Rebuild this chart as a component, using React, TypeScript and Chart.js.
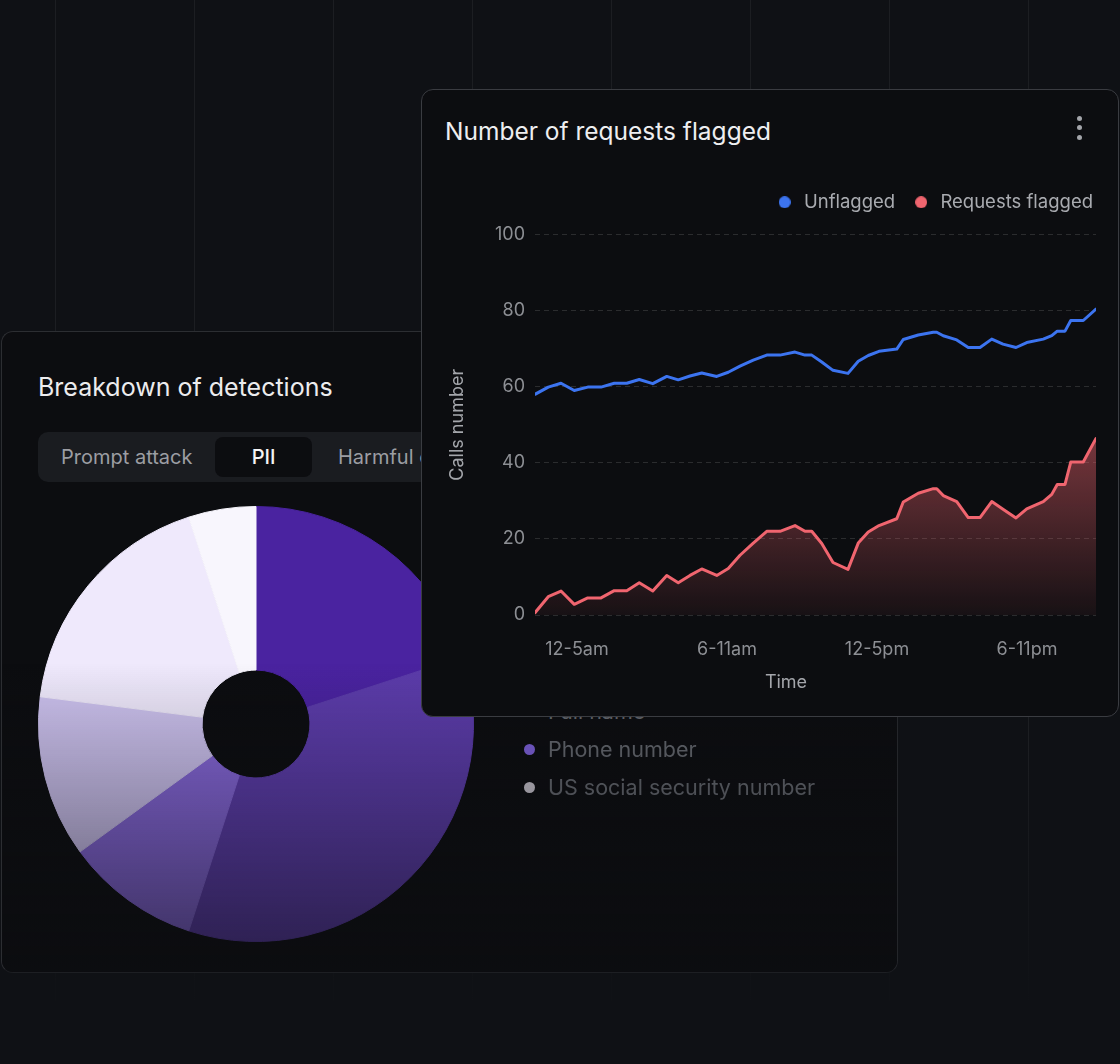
import React, { useEffect, useRef } from "react";
import { Chart, registerables } from "chart.js";

Chart.register(...registerables);

// ---------- Line chart data: "Number of requests flagged" ----------
const timeHours = [
  1.32, 1.85, 2.36, 2.89, 3.43, 3.96, 4.49, 4.99, 5.49, 6.03,
  6.59, 7.05, 7.52, 7.99, 8.59, 9.05, 9.52, 10.05, 10.59, 11.12,
  11.72, 12.12, 12.39, 12.79, 13.24, 13.84, 14.25, 14.65, 15.08, 15.79,
  16.05, 16.65, 17.25, 17.39, 17.65, 18.19, 18.65, 19.12, 19.59, 20.04,
  20.56, 20.99, 21.65, 21.99, 22.21, 22.52, 22.75, 23.25, 23.76,
];
const unflagged = [
  58.0, 59.9, 60.9, 59.0, 59.9, 59.9, 60.9, 60.9, 61.9, 60.8,
  62.7, 61.8, 62.8, 63.6, 62.7, 63.8, 65.4, 67.0, 68.3, 68.3,
  69.1, 68.3, 68.3, 66.5, 64.3, 63.5, 66.7, 68.2, 69.3, 69.9,
  72.4, 73.6, 74.3, 74.3, 73.4, 72.3, 70.3, 70.3, 72.5, 71.2,
  70.3, 71.6, 72.5, 73.4, 74.6, 74.6, 77.4, 77.4, 80.4,
];
const requestsFlagged = [
  0.6, 4.8, 6.3, 2.8, 4.5, 4.5, 6.4, 6.4, 8.5, 6.3,
  10.4, 8.5, 10.4, 12.1, 10.4, 12.2, 15.7, 18.9, 22.0, 22.0,
  23.5, 22.0, 22.0, 18.8, 13.8, 12.0, 18.9, 21.8, 23.5, 25.3,
  29.7, 32.0, 33.2, 33.2, 31.4, 29.8, 25.6, 25.6, 29.8, 27.8,
  25.5, 27.9, 29.8, 31.7, 34.3, 34.3, 40.2, 40.2, 46.4,
];
const seriesNames = ["Unflagged", "Requests flagged"];
const timeTickHours = [3, 9, 15, 21];
const timeTickLabels = ["12-5am", "6-11am", "12-5pm", "6-11pm"];
const callsMin = 0;
const callsMax = 100;
const callsStep = 20;

// ---------- Doughnut data: "Breakdown of detections" ----------
const detectionLabels = [
  "Email address",
  "Credit card number",
  "Phone number",
  "US social security number",
  "Full name",
  "IP address",
];
const detectionValues = [20, 35, 10, 12, 18, 5];
const detectionColors = ["#4a23a0", "#5c3cab", "#8566d8", "#cdc2ef", "#efe9fc", "#f8f6fd"];

const legendNames = ["Full name", "Phone number", "US social security number"];
const legendDotColors = ["#e6e0f8", "#7d60da", "#c7c3cd"];

const tabNames = ["Prompt attack", "PII", "Harmful content"];

// ---------- styles ----------
const FONT = "Inter, 'Noto Sans', sans-serif";
const PAGE_BG = "#0f1115";
const CARD_BG = "#0c0d10";
const BLUE = "#3c74f0";
const RED = "#f0656f";

function makeDot(color: string) {
  const c = document.createElement("canvas");
  c.width = 12;
  c.height = 12;
  const g = c.getContext("2d")!;
  g.fillStyle = color;
  g.beginPath();
  g.arc(6, 6, 6, 0, Math.PI * 2);
  g.fill();
  return c;
}

function FlaggedChart() {
  const ref = useRef<HTMLCanvasElement>(null);
  useEffect(() => {
    Chart.defaults.font.family = FONT;
    const dots = [makeDot(BLUE), makeDot(RED)];
    const legendGap = {
      id: "legendGap",
      beforeLayout(chart: any) {
        const lg = chart.legend;
        if (lg && !lg.__patched) {
          const orig = lg.fit;
          lg.fit = function () {
            orig.call(this);
            this.height += 13;
          };
          lg.__patched = true;
        }
      },
    };
    const chart = new Chart(ref.current!, {
      type: "line",
      data: {
        datasets: [
          {
            label: seriesNames[0],
            data: timeHours.map((t, i) => ({ x: t, y: unflagged[i] })),
            borderColor: BLUE,
            backgroundColor: BLUE,
            borderWidth: 3,
            pointRadius: 0,
            tension: 0,
            fill: false,
            borderJoinStyle: "round",
            borderCapStyle: "round",
          },
          {
            label: seriesNames[1],
            data: timeHours.map((t, i) => ({ x: t, y: requestsFlagged[i] })),
            borderColor: RED,
            borderWidth: 3,
            pointRadius: 0,
            tension: 0,
            fill: "origin",
            borderJoinStyle: "round",
            borderCapStyle: "round",
            backgroundColor: (c: any) => {
              const ch = c.chart;
              if (!ch.chartArea) return "rgba(240,101,111,0.2)";
              const y = ch.scales.y;
              const g = ch.ctx.createLinearGradient(0, y.getPixelForValue(50), 0, y.getPixelForValue(0));
              g.addColorStop(0, "rgba(240,101,111,0.5)");
              g.addColorStop(1, "rgba(240,101,111,0.05)");
              return g;
            },
          },
        ],
      },
      options: {
        animation: false,
        responsive: true,
        maintainAspectRatio: false,
        events: [],
        layout: { padding: { left: 12, right: 9, top: 7, bottom: 47 } },
        plugins: {
          tooltip: { enabled: false },
          legend: {
            display: true,
            position: "top",
            align: "end",
            labels: {
              usePointStyle: true,
              pointStyleWidth: 20,
              padding: 16,
              color: "#a9abb0",
              font: { size: 18.5, family: FONT },
              generateLabels: (ch: any) => {
                const items = (Chart.defaults.plugins.legend.labels as any).generateLabels(ch);
                return items.map((it: any, i: number) => ({ ...it, pointStyle: dots[i] }));
              },
            },
          },
        },
        scales: {
          x: {
            type: "linear",
            min: timeHours[0],
            max: timeHours[timeHours.length - 1],
            afterBuildTicks: (s: any) => {
              s.ticks = timeTickHours.map((v) => ({ value: v }));
            },
            afterFit: (s: any) => {
              s.height = 54;
            },
            grid: { display: false },
            border: { display: false },
            ticks: {
              autoSkip: false,
              maxRotation: 0,
              padding: 16,
              color: "#8d8f94",
              font: { size: 18, family: FONT },
              callback: (v: any) => {
                const i = timeTickHours.indexOf(Number(v));
                return i >= 0 ? timeTickLabels[i] : "";
              },
            },
          },
          y: {
            min: callsMin,
            max: callsMax,
            afterFit: (s: any) => {
              s.width = 101;
            },
            ticks: {
              stepSize: callsStep,
              padding: 10,
              color: "#8d8f94",
              font: { size: 18, family: FONT },
            },
            grid: { color: "rgba(255,255,255,0.13)", drawTicks: false, lineWidth: 1 },
            border: { display: false, dash: [5, 4] },
            title: {
              display: true,
              text: "Calls number",
              color: "#a4a6ab",
              font: { size: 18, family: FONT },
              padding: { top: 13.2, bottom: 0 },
            },
          },
          y2: {
            position: "right",
            display: true,
            grid: { display: false },
            border: { display: false },
            ticks: { display: false },
            afterFit: (s: any) => {
              s.width = 13;
            },
          },
        },
      } as any,
      plugins: [legendGap],
    });
    return () => chart.destroy();
  }, []);
  return <canvas ref={ref} />;
}

function DetectionDoughnut() {
  const ref = useRef<HTMLCanvasElement>(null);
  useEffect(() => {
    const chart = new Chart(ref.current!, {
      type: "doughnut",
      data: {
        labels: detectionLabels,
        datasets: [
          {
            data: detectionValues,
            backgroundColor: detectionColors,
            borderColor: detectionColors,
            borderWidth: 1,
          },
        ],
      },
      options: {
        animation: false,
        responsive: true,
        maintainAspectRatio: false,
        events: [],
        cutout: "24.8%",
        layout: { padding: 0 },
        plugins: { legend: { display: false }, tooltip: { enabled: false } },
      } as any,
    });
    return () => chart.destroy();
  }, []);
  return <canvas ref={ref} />;
}

export default function App() {
  useEffect(() => {
    document.body.style.margin = "0";
    document.body.style.background = PAGE_BG;
  }, []);

  const lines = Array.from({ length: 8 }, (_, i) => (
    <div
      key={i}
      style={{
        position: "absolute",
        left: 55 + i * 139,
        top: 0,
        width: 1,
        height: 1064,
        background:
          "linear-gradient(to bottom, rgba(255,255,255,0.055) 0%, rgba(255,255,255,0.055) 70%, rgba(255,255,255,0) 95%)",
      }}
    />
  ));

  return (
    <div
      style={{
        position: "absolute",
        left: 0,
        top: 0,
        width: 1120,
        height: 1064,
        background: PAGE_BG,
        overflow: "hidden",
        fontFamily: FONT,
      }}
    >
      {lines}

      {/* Left card: Breakdown of detections */}
      <div
        style={{
          position: "absolute",
          left: 1,
          top: 331,
          width: 897,
          height: 642,
          boxSizing: "border-box",
          border: "1px solid #2c2e32",
          borderBottomColor: "#1d1f23",
          borderRightColor: "#24262a",
          borderRadius: 12,
          background: CARD_BG,
          overflow: "hidden",
          zIndex: 1,
        }}
      >
        <div
          style={{
            position: "absolute",
            left: 36,
            top: 40,
            fontSize: 25,
            lineHeight: "30px",
            fontWeight: 400,
            color: "#ececee",
            whiteSpace: "nowrap",
          }}
        >
          Breakdown of detections
        </div>
        <div
          style={{
            position: "absolute",
            left: 36,
            top: 100,
            width: 560,
            height: 50,
            background: "#1a1c20",
            borderRadius: 10,
            fontSize: 20,
            lineHeight: "50px",
            color: "#9c9ea3",
            whiteSpace: "nowrap",
          }}
        >
          <div style={{ position: "absolute", left: 23, top: 0 }}>{tabNames[0]}</div>
          <div
            style={{
              position: "absolute",
              left: 177,
              top: 5,
              width: 97,
              height: 40,
              lineHeight: "40px",
              background: CARD_BG,
              borderRadius: 8,
              textAlign: "center",
              color: "#f4f4f5",
              fontWeight: 500,
            }}
          >
            {tabNames[1]}
          </div>
          <div style={{ position: "absolute", left: 300, top: 0 }}>{tabNames[2]}</div>
        </div>
        <div style={{ position: "absolute", left: 36, top: 174, width: 436, height: 436 }}>
          <DetectionDoughnut />
        </div>
        {legendNames.map((name, i) => (
          <div
            key={name}
            style={{
              position: "absolute",
              left: 522,
              top: 379 + i * 38 - 14,
              height: 28,
              display: "flex",
              alignItems: "center",
              whiteSpace: "nowrap",
            }}
          >
            <span
              style={{
                width: 11,
                height: 11,
                borderRadius: 6,
                background: legendDotColors[i],
                display: "inline-block",
              }}
            />
            <span style={{ marginLeft: 13, fontSize: 21.5, lineHeight: "28px", color: "#64676e" }}>{name}</span>
          </div>
        ))}
        <div
          style={{
            position: "absolute",
            left: 0,
            right: 0,
            top: 331,
            bottom: 0,
            background: "linear-gradient(to bottom, rgba(12,13,16,0) 0%, rgba(12,13,16,0.62) 100%)",
          }}
        />
      </div>

      {/* Right card: Number of requests flagged */}
      <div
        style={{
          position: "absolute",
          left: 421,
          top: 89,
          width: 698,
          height: 628,
          boxSizing: "border-box",
          border: "1px solid #3a3c41",
          borderRadius: 12,
          background: CARD_BG,
          zIndex: 2,
        }}
      >
        <div
          style={{
            position: "absolute",
            left: 23,
            top: 26,
            fontSize: 24.5,
            lineHeight: "30px",
            fontWeight: 400,
            color: "#eeeef0",
            whiteSpace: "nowrap",
          }}
        >
          Number of requests flagged
        </div>
        {[0, 1, 2].map((k) => (
          <div
            key={k}
            style={{
              position: "absolute",
              left: 655,
              top: 25.5 + k * 9.5,
              width: 5.2,
              height: 5.2,
              borderRadius: 3,
              background: "#a3a5aa",
            }}
          />
        ))}
        <div style={{ position: "absolute", left: 0, top: 80, width: 696, height: 546 }}>
          <FlaggedChart />
        </div>
        <div
          style={{
            position: "absolute",
            left: 364,
            top: 581,
            transform: "translateX(-50%)",
            fontSize: 18,
            lineHeight: "22px",
            color: "#a4a6ab",
            whiteSpace: "nowrap",
          }}
        >
          Time
        </div>
      </div>
    </div>
  );
}
